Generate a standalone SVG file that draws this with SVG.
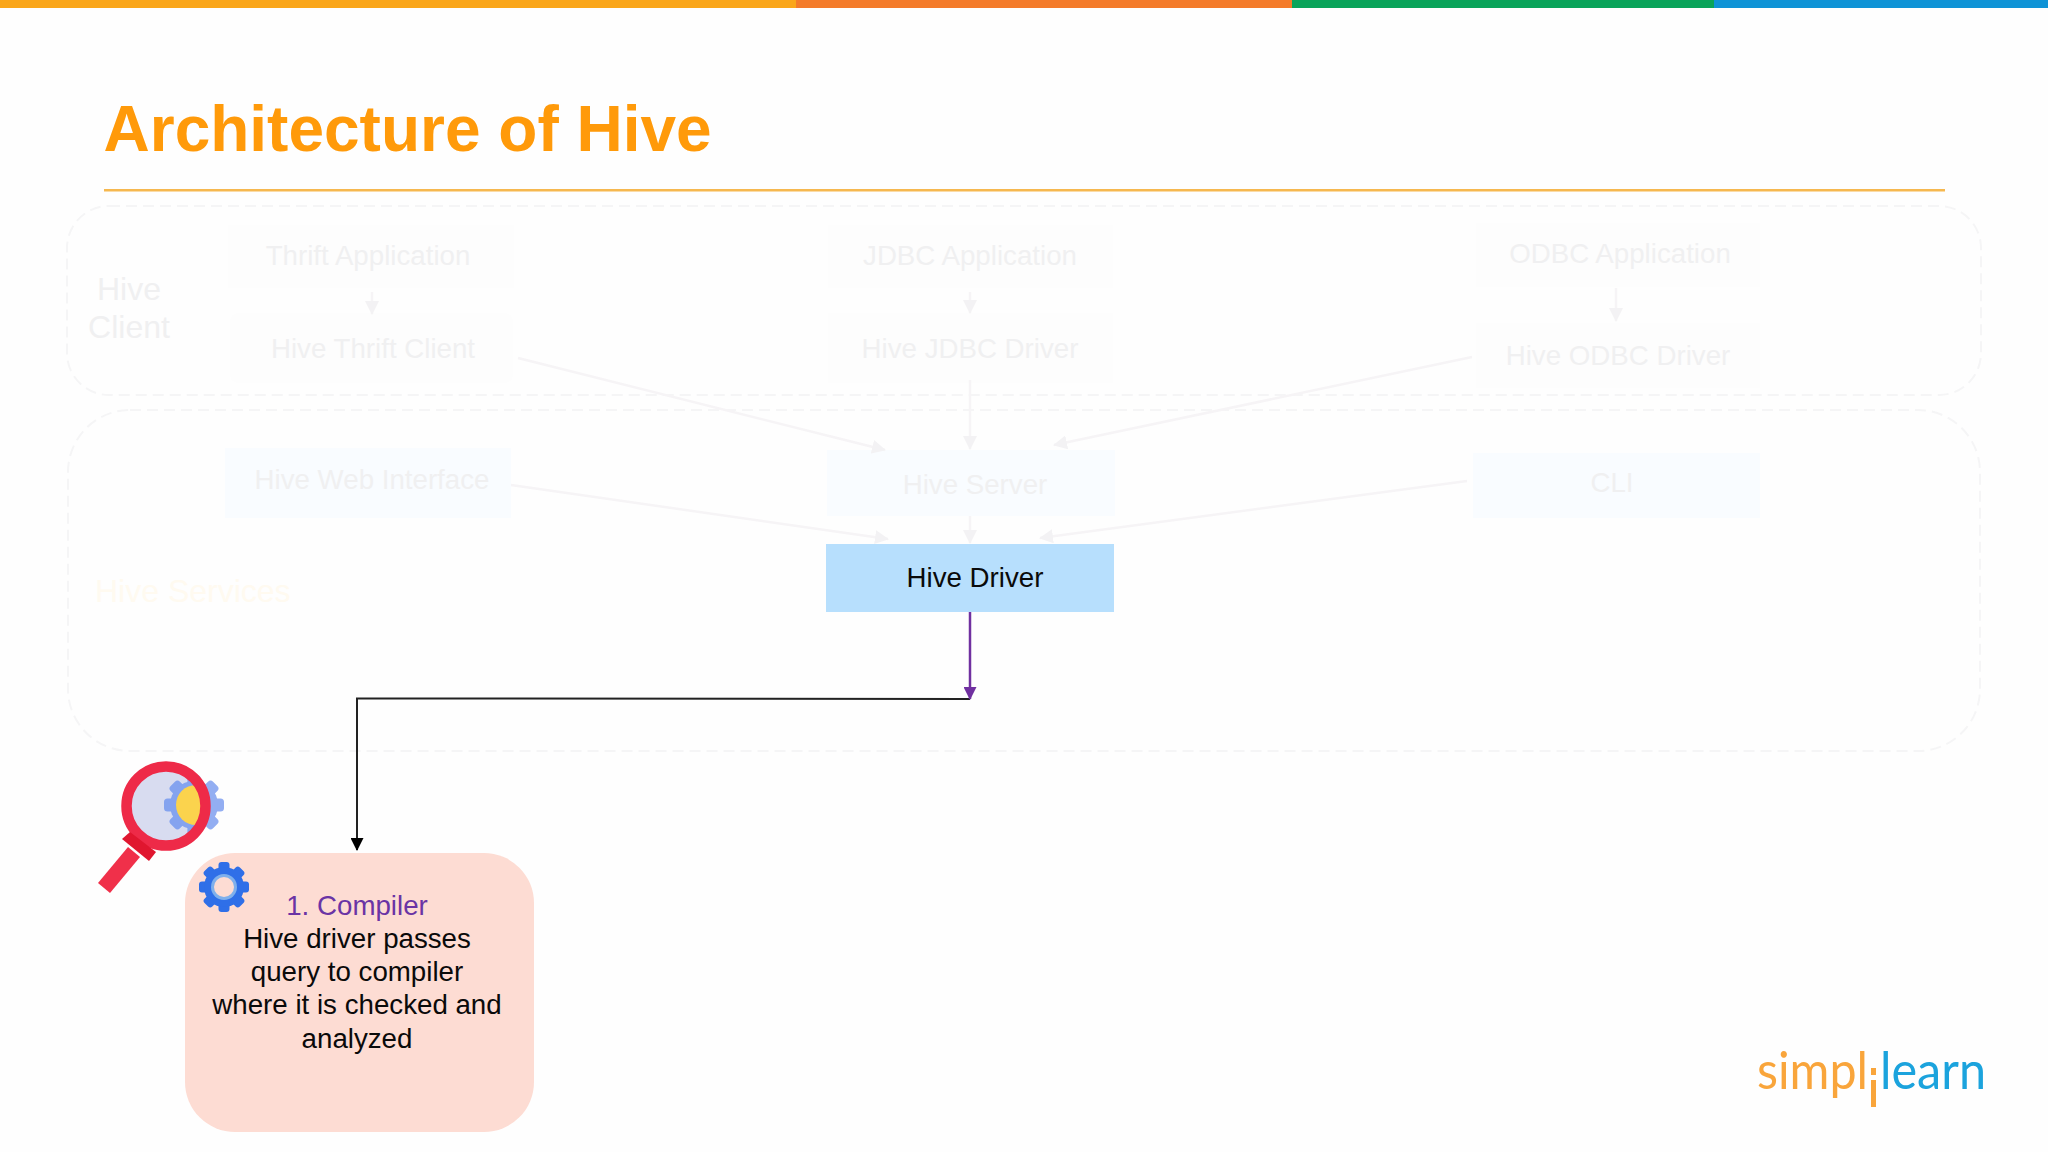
<svg xmlns="http://www.w3.org/2000/svg" width="2048" height="1152" viewBox="0 0 2048 1152">
<style>
text{font-family:"Liberation Sans",Arial,sans-serif}
.ghost{font-size:27.7px;fill:#f0f0f1;text-anchor:middle}
.body{font-size:27.7px;fill:#0a0a0a;text-anchor:middle}
.gbox{fill:#fdfdfd}
.wbox{fill:#f9fcff}
.zone{fill:#fefefe;stroke:#f5f5f6;stroke-width:2;stroke-dasharray:11 6}
.gline{fill:none;stroke:#f6f4f6;stroke-width:2.5;marker-end:url(#ghead)}
.logo{font-family:Lato,"Open Sans",sans-serif;font-size:52px;font-weight:400}
</style>
<defs>
<marker id="ghead" markerWidth="14" markerHeight="14" refX="13" refY="7" orient="auto" markerUnits="userSpaceOnUse"><path d="M0 0L14 7L0 14Z" fill="#f3f2f4"/></marker>
<marker id="phead" markerWidth="13" markerHeight="13" refX="12" refY="6.5" orient="auto" markerUnits="userSpaceOnUse"><path d="M0 0L13 6.5L0 13Z" fill="#7030a0"/></marker>
<marker id="khead" markerWidth="13" markerHeight="13" refX="12" refY="6.5" orient="auto" markerUnits="userSpaceOnUse"><path d="M0 0L13 6.5L0 13Z" fill="#000"/></marker>
<g id="teeth">
<rect x="-5.5" y="-25" width="11" height="50" rx="3"/>
<rect x="-5.5" y="-25" width="11" height="50" rx="3" transform="rotate(45)"/>
<rect x="-5.5" y="-25" width="11" height="50" rx="3" transform="rotate(90)"/>
<rect x="-5.5" y="-25" width="11" height="50" rx="3" transform="rotate(135)"/>
</g>
<clipPath id="lens"><circle cx="166" cy="806" r="36"/></clipPath>
</defs>
<rect id="background" width="2048" height="1152" fill="#fefefe"/>
<g id="top-bar">
<rect x="0" y="0" width="796" height="8" fill="#faa61a"/>
<rect x="796" y="0" width="496" height="8" fill="#f47b2a"/>
<rect x="1292" y="0" width="422" height="8" fill="#0aa45a"/>
<rect x="1714" y="0" width="334" height="8" fill="#0f93d6"/>
</g>
<g id="title">
<text x="103.5" y="151" font-size="64" font-weight="700" fill="#ff9a0a">Architecture of Hive</text>
<rect x="104" y="189" width="1841" height="2.5" fill="#f6b84f"/>
</g>
<g id="hive-client-zone">
<rect class="zone" x="67" y="206" width="1914" height="189" rx="42"/>
<text class="ghost" x="129" y="300" style="font-size:32px">Hive</text>
<text class="ghost" x="129" y="338" style="font-size:32px">Client</text>
</g>
<g id="hive-services-zone">
<rect class="zone" x="68" y="410" width="1912" height="341" rx="62"/>
<text x="95" y="602" font-size="32" fill="#fffaf0">Hive Services</text>
</g>
<g id="thrift-application"><rect class="gbox" x="228" y="225" width="286" height="63"/><text class="ghost" x="368" y="265">Thrift Application</text></g>
<g id="hive-thrift-client"><rect class="gbox" x="230" y="313" width="283" height="70" rx="8"/><text class="ghost" x="373" y="358">Hive Thrift Client</text></g>
<g id="jdbc-application"><rect class="gbox" x="828" y="225" width="285" height="63"/><text class="ghost" x="970" y="265">JDBC Application</text></g>
<g id="hive-jdbc-driver"><rect class="gbox" x="828" y="313" width="285" height="70"/><text class="ghost" x="970" y="358">Hive JDBC Driver</text></g>
<g id="odbc-application"><rect class="gbox" x="1476" y="223" width="284" height="64"/><text class="ghost" x="1620" y="263">ODBC Application</text></g>
<g id="hive-odbc-driver"><rect class="gbox" x="1476" y="323" width="284" height="65"/><text class="ghost" x="1618" y="365">Hive ODBC Driver</text></g>
<g id="hive-web-interface"><rect class="wbox" x="225" y="448" width="286" height="70"/><text class="ghost" x="372" y="489">Hive Web Interface</text></g>
<g id="hive-server"><rect class="wbox" x="827" y="450" width="288" height="66"/><text class="ghost" x="975" y="494">Hive Server</text></g>
<g id="cli"><rect class="wbox" x="1473" y="453" width="287" height="65"/><text class="ghost" x="1612" y="492">CLI</text></g>
<g id="connectors">
<line class="gline" x1="372" y1="292" x2="372" y2="314"/>
<line class="gline" x1="970" y1="292" x2="970" y2="313"/>
<line class="gline" x1="1616" y1="288" x2="1616" y2="321"/>
<line class="gline" x1="518" y1="358" x2="885" y2="450"/>
<line class="gline" x1="970" y1="380" x2="970" y2="449"/>
<line class="gline" x1="1472" y1="357" x2="1054" y2="445"/>
<line class="gline" x1="511" y1="485" x2="888" y2="539"/>
<line class="gline" x1="970" y1="516" x2="970" y2="543"/>
<line class="gline" x1="1467" y1="481" x2="1040" y2="538"/>
<path d="M970 699L357 698.5V850" fill="none" stroke="#222" stroke-width="2" marker-end="url(#khead)"/>
<line x1="970" y1="612" x2="970" y2="699" stroke="#7030a0" stroke-width="2.5" marker-end="url(#phead)"/>
</g>
<g id="hive-driver"><rect x="826" y="544" width="288" height="68" fill="#b7dffd"/><text class="body" x="975" y="587">Hive Driver</text></g>
<g id="magnifier-icon">
<g fill="#93aef2" transform="translate(194 805) scale(1.2)"><use href="#teeth"/><circle r="20"/></g>
<circle cx="166" cy="806" r="38" fill="#d8dcf0"/>
<g clip-path="url(#lens)"><g fill="#84a3ef" transform="translate(194 805) scale(1.2)"><use href="#teeth"/><circle r="20"/></g><circle cx="196" cy="805" r="20" fill="#fbd34d"/></g>
<circle cx="166" cy="806" r="39.5" fill="none" stroke="#ee2a48" stroke-width="10.5"/>
<polygon points="98,883 110,893 140,857 128,847" fill="#f0304a"/>
<polygon points="122,839 130,832 156,852 149,861" fill="#e0162f"/>
</g>
<g id="compiler-card">
<rect x="185" y="853" width="349" height="279" rx="50" fill="#fddcd3"/>
<g transform="translate(224 887)" fill="#2f6fe8"><use href="#teeth"/><circle r="20"/><circle r="13" fill="#7fb0ec"/><circle r="10" fill="#fddcd3"/></g>
<text x="357" y="915" font-size="27.7" fill="#6a34a5" text-anchor="middle">1. Compiler</text>
<text class="body" x="357" y="948">Hive driver passes</text>
<text class="body" x="357" y="981">query to compiler</text>
<text class="body" x="357" y="1014">where it is checked and</text>
<text class="body" x="357" y="1048">analyzed</text>
</g>
<g id="logo">
<text class="logo" x="1757" y="1089" fill="#f9a53b" textLength="111" lengthAdjust="spacingAndGlyphs">simpl</text>
<rect x="1871" y="1068" width="5" height="7" fill="#f9a53b"/>
<rect x="1871" y="1080" width="5" height="27" fill="#f9a53b"/>
<text class="logo" x="1880" y="1089" fill="#1ba3dd" textLength="106" lengthAdjust="spacingAndGlyphs">learn</text>
</g>
</svg>
